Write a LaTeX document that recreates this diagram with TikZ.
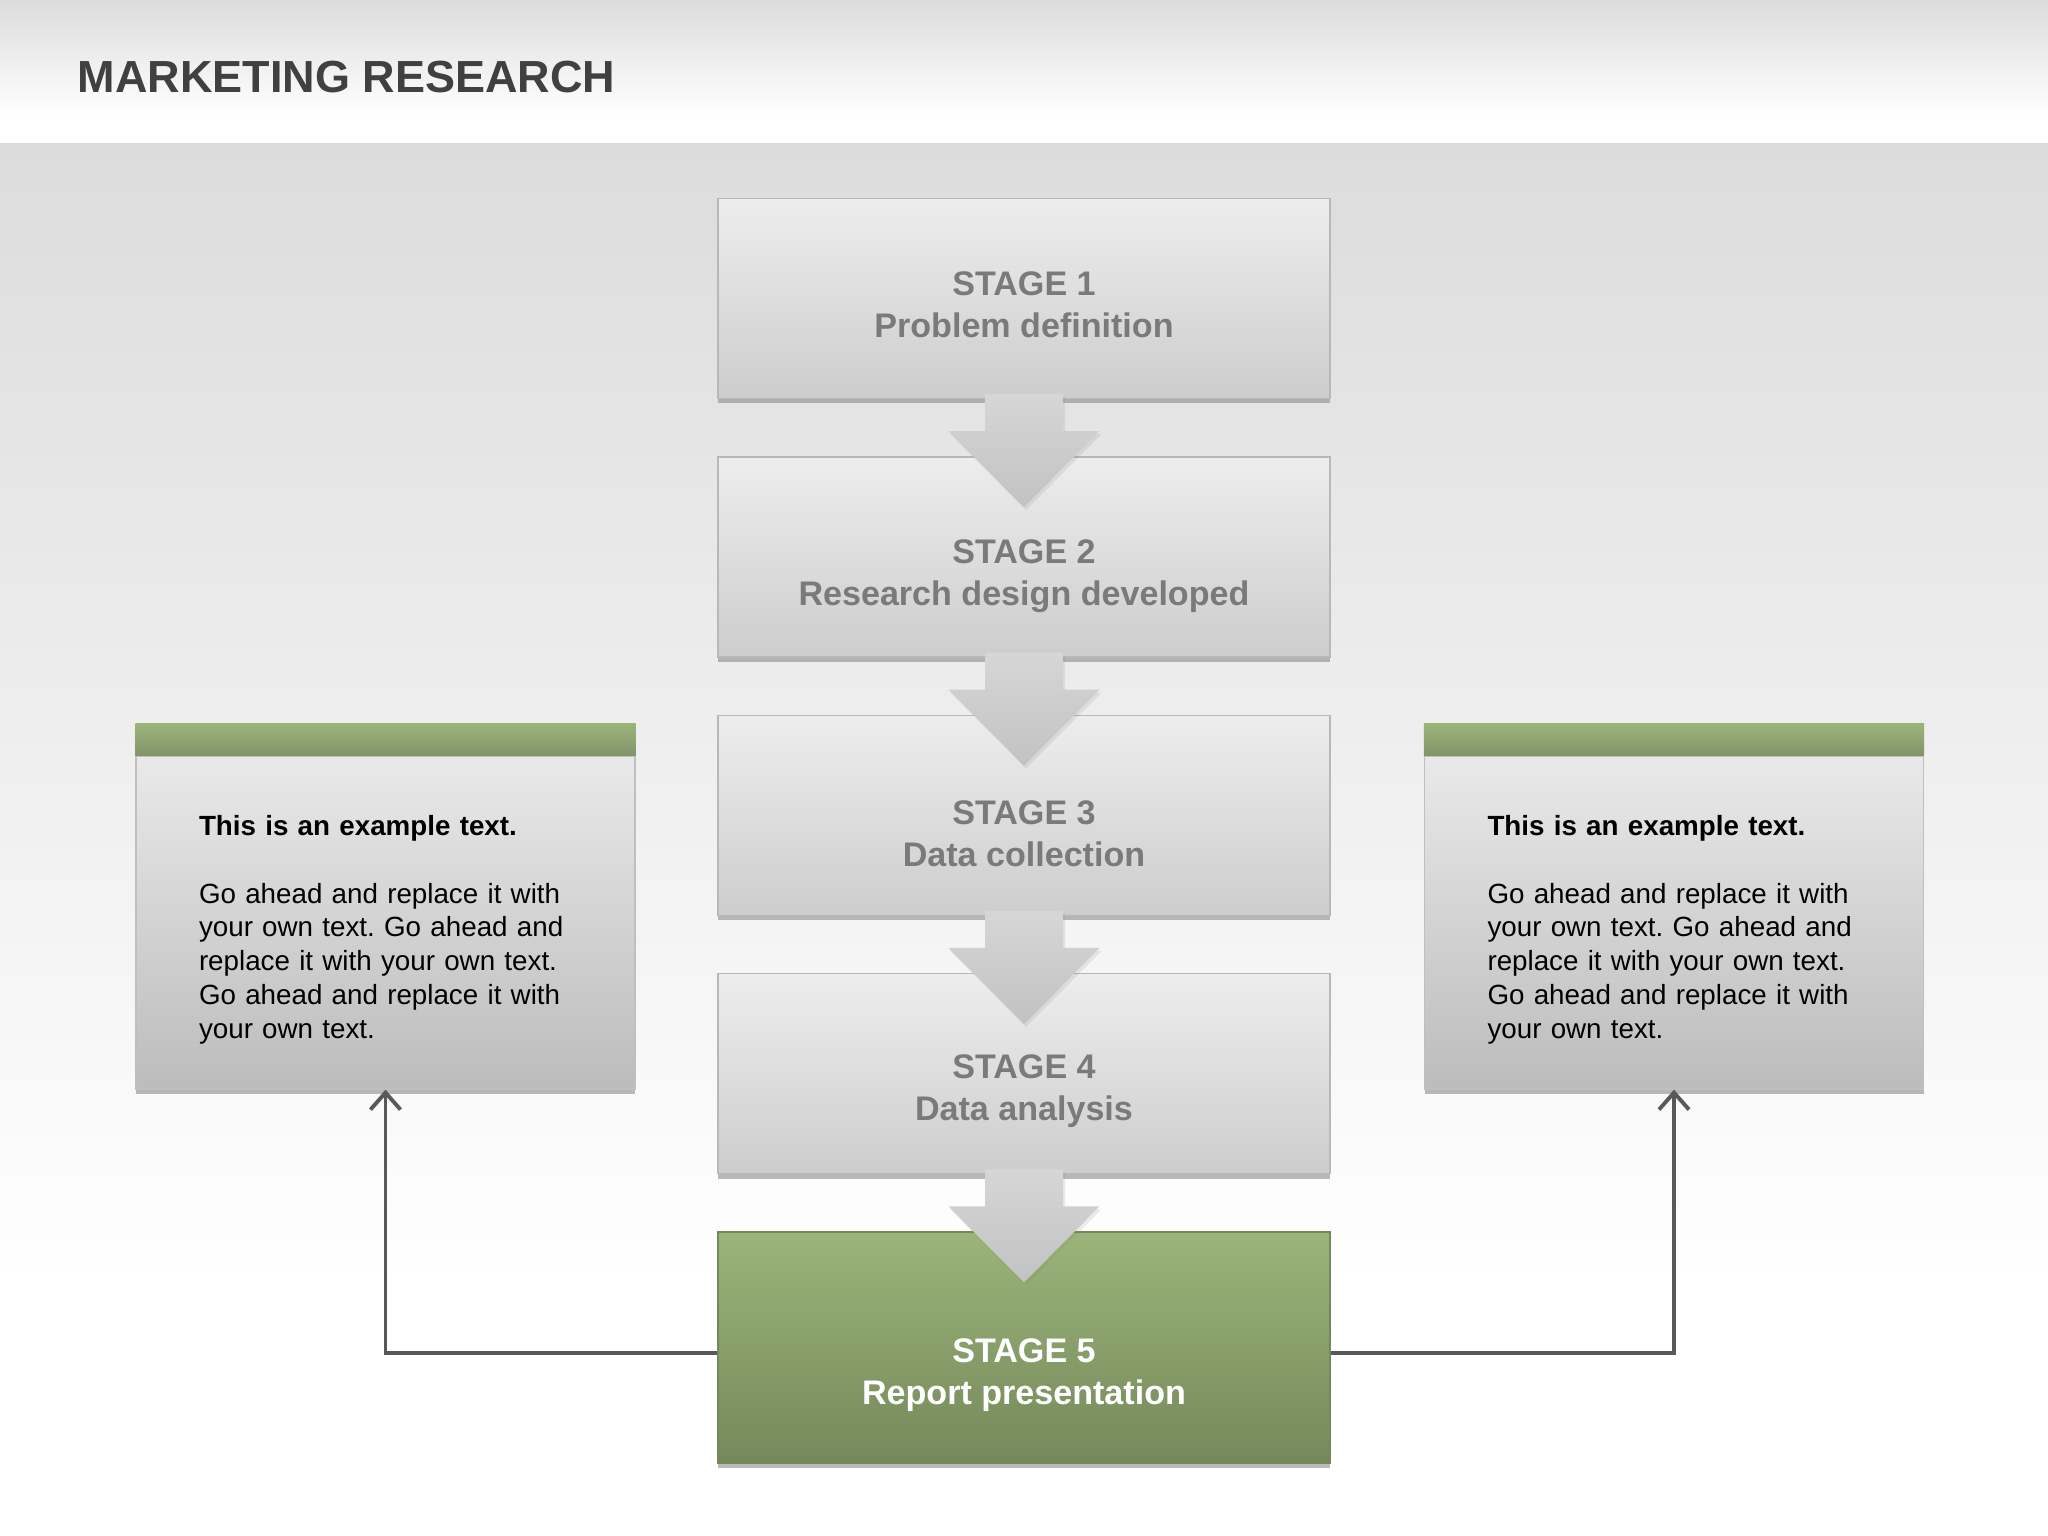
\documentclass[tikz,border=0pt]{standalone}
\usepackage{fontspec}
\setmainfont{Liberation Sans}
\usepackage{xcolor}
\definecolor{titlegrey}{RGB}{64, 64, 64}
\definecolor{bgtop}{RGB}{220, 220, 220}
\definecolor{stagetop}{RGB}{237, 237, 237}
\definecolor{stagebottom}{RGB}{205, 205, 205}
\definecolor{stagetext}{RGB}{122, 122, 122}
\definecolor{notetop}{RGB}{233, 233, 233}
\definecolor{notebottom}{RGB}{188, 188, 188}
\definecolor{mossgreen}{RGB}{154, 181, 122}
\definecolor{mossdark}{RGB}{117, 136, 90}
\definecolor{arrowtop}{RGB}{214, 214, 214}
\definecolor{arrowbottom}{RGB}{194, 194, 194}
\definecolor{linegrey}{RGB}{89, 89, 89}
\usetikzlibrary{positioning, calc, shadows, arrows.meta}

\begin{document}
\begin{tikzpicture}[
    stagebox/.style={rectangle, minimum width=6.12cm, minimum height=2cm, inner sep=0pt,
        top color=stagetop, bottom color=stagebottom, draw=black!28, line width=0.4pt,
        drop shadow={shadow xshift=0cm, shadow yshift=-0.05cm, fill=black!45, opacity=0.6}},
    lastbox/.style={stagebox, minimum height=2.31cm, top color=mossgreen, bottom color=mossdark,
        draw=mossdark},
    stagelabel/.style={text=stagetext, font=\fontsize{9.7}{11.95}\selectfont\bfseries, align=center},
    notebox/.style={rectangle, minimum width=4.99cm, minimum height=3.33cm, text width=3.73cm,
        inner xsep=0.63cm, inner ysep=0pt, top color=notetop, bottom color=notebottom,
        draw=black!25, line width=0.4pt, align=left, text=black,
        font=\fontsize{7.9}{9.67}\selectfont\frenchspacing,
        drop shadow={shadow xshift=0cm, shadow yshift=-0.05cm, fill=black!45, opacity=0.6}},
    blockarrow/.style={top color=arrowtop, bottom color=arrowbottom,
        drop shadow={shadow xshift=0.02cm, shadow yshift=-0.03cm, opacity=0.15}},
    feedback/.style={draw=linegrey, line width=1.1pt, -{Straight Barb[length=0.17cm, width=0.3cm]}},
    node distance=0.57cm
  ]
    \useasboundingbox (0,0) rectangle (20.48,15.36);

    % Background
    \fill[white] (0,0) rectangle (20.48,15.36);
    \shade[top color=bgtop, bottom color=white] (0,2.5) rectangle (20.48,13.92);
    \shade[top color=bgtop, bottom color=white] (0,14.2) rectangle (20.48,15.36);

    % Title
    \node[anchor=west, inner sep=0pt, text=titlegrey, font=\fontsize{12.8}{15}\selectfont\bfseries]
        (title) at (0.77,14.59) {MARKETING RESEARCH};

    % Stages
    \node[stagebox] (s1) at (10.24,12.375) {};
    \node[stagebox, below=of s1] (s2) {};
    \node[stagebox, below=of s2] (s3) {};
    \node[stagebox, below=of s3] (s4) {};
    \node[lastbox, below=of s4] (s5) {};

    % Arrows between stages
    \foreach \a/\b in {s1/s2, s2/s3, s3/s4, s4/s5}
        \shade[blockarrow] ($(\a.south)+(-0.39,0.05)$) -- ($(\b.north)+(-0.39,0.25)$)
            -- ($(\b.north)+(-0.755,0.25)$) -- ($(\b.north)+(0,-0.51)$)
            -- ($(\b.north)+(0.755,0.25)$) -- ($(\b.north)+(0.39,0.25)$)
            -- ($(\a.south)+(0.39,0.05)$) -- cycle;

    % Stage labels
    \node[stagelabel] (s1txt) at ([yshift=-0.065cm]s1.center) {STAGE 1\\Problem definition};
    \node[stagelabel] (s2txt) at ([yshift=-0.19cm]s2.center) {STAGE 2\\Research design developed};
    \node[stagelabel] (s3txt) at ([yshift=-0.18cm]s3.center) {STAGE 3\\Data collection};
    \node[stagelabel] (s4txt) at ([yshift=-0.17cm]s4.center) {STAGE 4\\Data analysis};
    \node[stagelabel, text=white] (s5txt) at ([yshift=-0.28cm]s5.center) {STAGE 5\\Report presentation};

    % Notes
    \node[notebox] (noteL) at (3.855,6.135) {\rule{0pt}{9.9pt}\textbf{This is an example text.}\\[9.67pt]
        Go ahead and replace it with\\ your own text. Go ahead and\\ replace it with your own text.\\
        Go ahead and replace it with\\ your own text.};
    \node[notebox] (noteR) at (16.74,6.135) {\rule{0pt}{9.9pt}\textbf{This is an example text.}\\[9.67pt]
        Go ahead and replace it with\\ your own text. Go ahead and\\ replace it with your own text.\\
        Go ahead and replace it with\\ your own text.};
    \shade[top color=mossgreen, bottom color=mossdark!90] (noteL.north west) rectangle ([yshift=0.32cm]noteL.north east);
    \shade[top color=mossgreen, bottom color=mossdark!90] (noteR.north west) rectangle ([yshift=0.32cm]noteR.north east);

    % Feedback lines
    \draw[feedback] ([yshift=-0.05cm]s5.west) -| (noteL.south);
    \draw[feedback] ([yshift=-0.05cm]s5.east) -| (noteR.south);
\end{tikzpicture}
\end{document}
